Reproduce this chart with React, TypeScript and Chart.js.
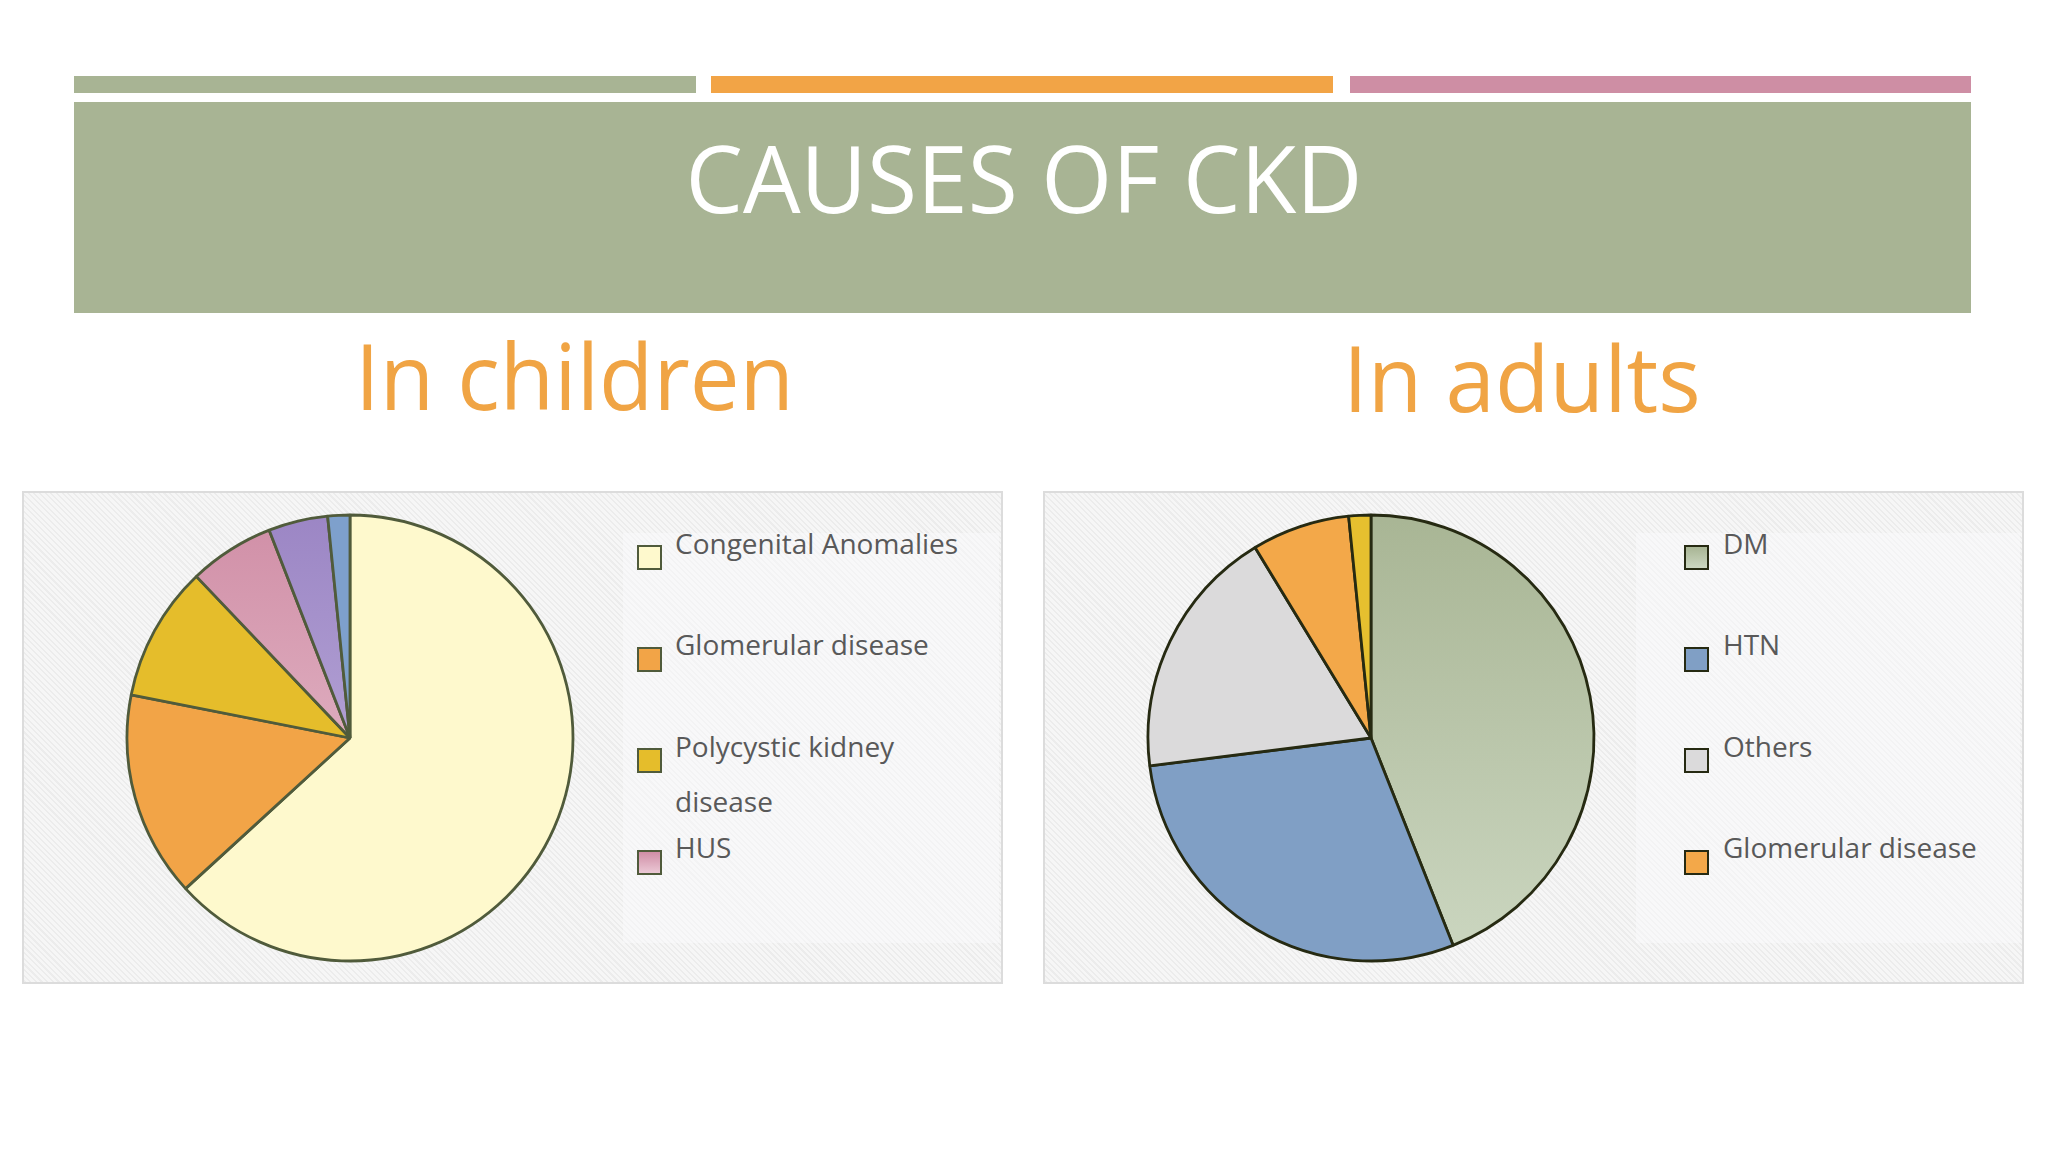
import React, { useEffect, useRef } from "react";
import { Chart, registerables } from "chart.js";

Chart.register(...registerables);

const titleText = "CAUSES OF CKD";
const childrenHeading = "In children";
const adultsHeading = "In adults";

const childrenLabels = [
  "Congenital Anomalies",
  "Glomerular disease",
  "Polycystic kidney disease",
  "HUS",
  "Other",
  "Unknown",
];
const childrenValues = [63.2, 14.9, 9.8, 6.2, 4.3, 1.6];
const childrenColors = ["#FEF9CD", "#F2A447", "#E5BD2B", ["#D08EA6", "#EBC8D5"], ["#9B85C4", "#C6B9E2"], "#7EA0CC"];
const childrenBorder = "#505B3B";

const adultLabels = ["DM", "HTN", "Others", "Glomerular disease", "Polycystic kidney disease"];
const adultValues = [44, 29, 18.3, 7.1, 1.6];
const adultColors = [["#A8B594", "#CCD7C1"], "#809FC5", "#DBDADB", "#F3A849", "#E6C02F"];
const adultBorder = "#262A12";

const legendCount = 4;

type Col = string | string[];

function makeBg(colors: Col[]) {
  return (ctx: any) => {
    const c = colors[ctx.dataIndex];
    if (typeof c === "string") return c;
    const area = ctx.chart.chartArea;
    if (!area) return c[0];
    const g = ctx.chart.ctx.createLinearGradient(0, area.top, 0, area.bottom);
    g.addColorStop(0, c[0]);
    g.addColorStop(1, c[1]);
    return g;
  };
}

function cssCol(c: Col) {
  return typeof c === "string" ? c : `linear-gradient(${c[0]}, ${c[1]})`;
}

function PieCanvas(props: { labels: string[]; values: number[]; colors: Col[]; border: string; left: number; top: number }) {
  const ref = useRef<HTMLCanvasElement>(null);
  useEffect(() => {
    if (!ref.current) return;
    const chart = new Chart(ref.current, {
      type: "pie",
      data: {
        labels: props.labels,
        datasets: [
          {
            data: props.values,
            backgroundColor: makeBg(props.colors) as any,
            borderColor: props.border,
            borderWidth: 2.8,
          },
        ],
      },
      options: {
        animation: false,
        responsive: false,
        radius: 223,
        plugins: { legend: { display: false }, tooltip: { enabled: false } },
        layout: { padding: 0 },
      } as any,
    });
    return () => chart.destroy();
  }, []);
  return (
    <canvas
      ref={ref}
      width={460}
      height={460}
      style={{ position: "absolute", left: props.left, top: props.top, width: 460, height: 460 }}
    />
  );
}

const hatch = "repeating-linear-gradient(45deg, #ECECEC 0px, #ECECEC 1.5px, #F6F6F6 1.5px, #F6F6F6 4px)";

function Legend(props: { labels: string[]; colors: Col[]; border: string; swatchLeft: number; textLeft: number }) {
  const items = props.labels.slice(0, legendCount);
  return (
    <>
      {items.map((lab, i) => {
        const sqTop = 545 + i * 101.5;
        return (
          <React.Fragment key={lab}>
            <div
              style={{
                position: "absolute",
                left: props.swatchLeft,
                top: sqTop,
                width: 21,
                height: 21,
                border: `2.5px solid ${props.border}`,
                background: cssCol(props.colors[i]),
              }}
            />
            <div
              style={{
                position: "absolute",
                left: props.textLeft,
                top: sqTop + 9 - 38.4,
                width: 300,
                fontFamily: "'Open Sans', sans-serif",
                fontSize: 28,
                lineHeight: "55px",
                color: "#595959",
              }}
            >
              {lab}
            </div>
          </React.Fragment>
        );
      })}
    </>
  );
}

function Heading(props: { text: string; cx: number; baseline: number; size: number; color: string; squeeze: number }) {
  return (
    <div
      style={{
        position: "absolute",
        left: props.cx - 600,
        width: 1200,
        top: props.baseline - 0.888 * props.size,
        textAlign: "center",
        fontFamily: "'Open Sans', sans-serif",
        fontSize: props.size,
        lineHeight: 1,
        color: props.color,
        whiteSpace: "nowrap",
      }}
    >
      <span style={{ display: "inline-block", transform: `scaleX(${props.squeeze})` }}>{props.text}</span>
    </div>
  );
}

export default function App() {
  return (
    <div
      style={{
        position: "fixed",
        left: 0,
        top: 0,
        width: 2048,
        height: 1152,
        background: "#FFFFFF",
        overflow: "hidden",
      }}
    >
      <div style={{ position: "absolute", left: 74, top: 76, width: 622, height: 17, background: "#A8B494" }} />
      <div style={{ position: "absolute", left: 711, top: 76, width: 622, height: 17, background: "#F2A446" }} />
      <div style={{ position: "absolute", left: 1350, top: 76, width: 621, height: 17, background: "#CE8EA4" }} />
      <div style={{ position: "absolute", left: 74, top: 102, width: 1897, height: 211, background: "#A8B494" }} />
      <Heading text={titleText} cx={1024} baseline={213} size={94} color="#FFFFFF" squeeze={0.97} />
      <Heading text={childrenHeading} cx={574} baseline={411} size={92} color="#F0A444" squeeze={0.965} />
      <Heading text={adultsHeading} cx={1522} baseline={413} size={92} color="#F0A444" squeeze={0.968} />

      <div
        style={{
          position: "absolute",
          left: 22,
          top: 491,
          width: 977,
          height: 489,
          border: "2px solid #DCDCDC",
          background: hatch,
        }}
      />
      <div style={{ position: "absolute", left: 623, top: 533, width: 376, height: 410, background: "rgba(250,250,252,0.55)" }} />
      <div
        style={{
          position: "absolute",
          left: 1043,
          top: 491,
          width: 977,
          height: 489,
          border: "2px solid #DCDCDC",
          background: hatch,
        }}
      />
      <div style={{ position: "absolute", left: 1636, top: 533, width: 384, height: 410, background: "rgba(250,250,252,0.55)" }} />

      <PieCanvas labels={childrenLabels} values={childrenValues} colors={childrenColors} border={childrenBorder} left={120} top={508} />
      <PieCanvas labels={adultLabels} values={adultValues} colors={adultColors} border={adultBorder} left={1141} top={508} />

      <Legend labels={childrenLabels} colors={childrenColors} border={childrenBorder} swatchLeft={637} textLeft={675} />
      <Legend labels={adultLabels} colors={adultColors} border={adultBorder} swatchLeft={1684} textLeft={1723} />
    </div>
  );
}
